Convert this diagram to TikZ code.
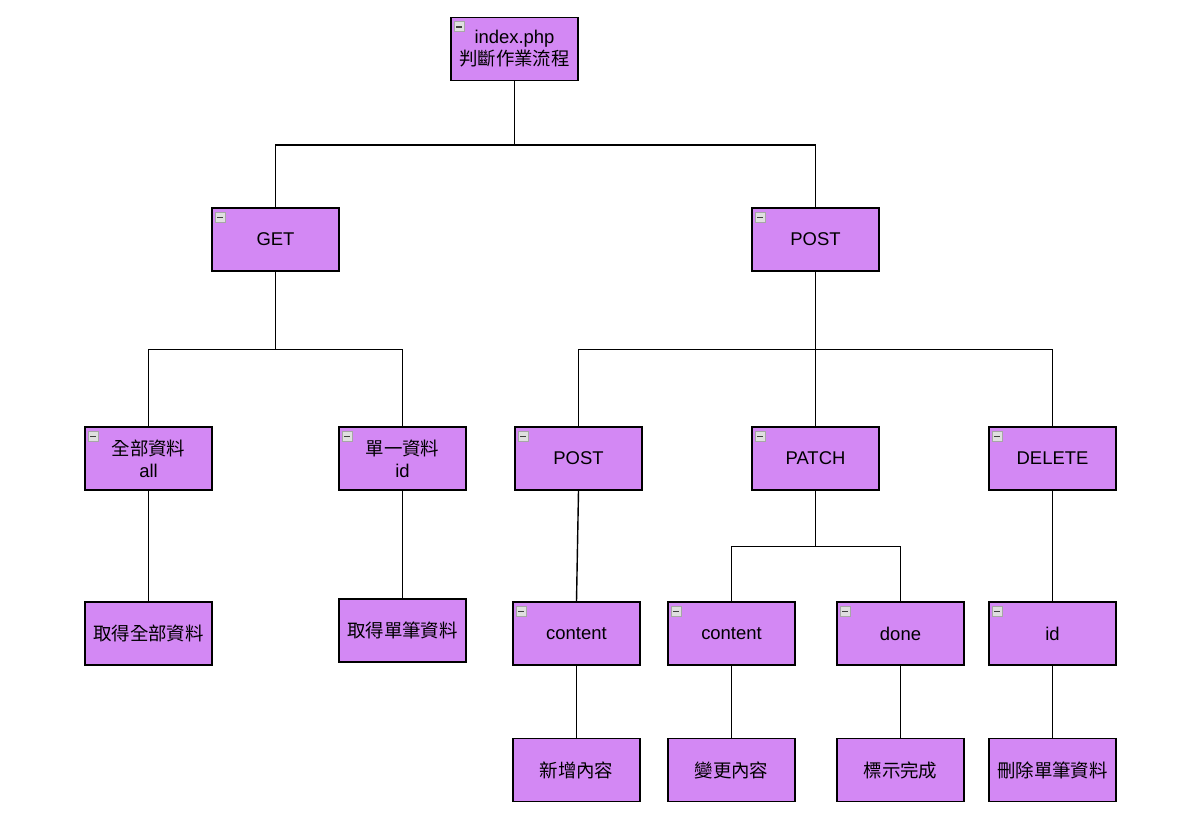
\documentclass[tikz,border=0pt]{standalone}
\usepackage{fontspec}
\setmainfont{Liberation Sans}
\newfontfamily\cjk{Noto Sans CJK TC}
\begin{document}
\begin{tikzpicture}[x=0.02cm,y=-0.02cm,
  box/.style={draw=black,line width=0.8pt,fill={rgb,255:red,211;green,136;blue,244},minimum width=2.54cm,minimum height=1.26cm,inner sep=1pt,align=center,font=\fontsize{10.5}{12.5}\selectfont},
  link/.style={line width=0.8pt},
  icon/.style={draw=gray!70,fill=gray!25,minimum size=0.2cm,inner sep=0pt,path picture={\draw[line width=0.9pt,black!75] ([xshift=0.04cm]path picture bounding box.west) -- ([xshift=-0.04cm]path picture bounding box.east);}}]
\useasboundingbox (0,0) rectangle (1200,812);
\node[box] (root) at (514.5,49) {index.php\\{\cjk 判斷作業流程}};
\node[box] (get) at (275.5,239.5) {GET};
\node[box] (post) at (815.5,239.5) {POST};
\node[box] (all) at (148.5,458.5) {{\cjk 全部資料}\\all};
\node[box] (one) at (402.5,458.5) {{\cjk 單一資料}\\id};
\node[box] (post2) at (578.5,458.5) {POST};
\node[box] (patch) at (815.5,458.5) {PATCH};
\node[box] (del) at (1052.5,458.5) {DELETE};
\node[box] (getall) at (148.5,633.5) {\cjk 取得全部資料};
\node[box] (getone) at (402.5,630.5) {\cjk 取得單筆資料};
\node[box] (c1) at (576.5,633.5) {content};
\node[box] (c2) at (731.5,633.5) {content};
\node[box] (done) at (900.5,633.5) {done};
\node[box] (id2) at (1052.5,633.5) {id};
\node[box] (add) at (576.5,770) {\cjk 新增內容};
\node[box] (chg) at (731.5,770) {\cjk 變更內容};
\node[box] (mark) at (900.5,770) {\cjk 標示完成};
\node[box] (rm) at (1052.5,770) {\cjk 刪除單筆資料};
\foreach \n in {root,get,post,all,one,post2,patch,del,c1,c2,done,id2}
  \node[icon] (ic-\n) at ([xshift=0.18cm,yshift=-0.2cm]\n.north west) {};
\draw[link] (root.south) -- ++(0,64) -| (get.north);
\draw[link] (root.south) -- ++(0,64) -| (post.north);
\draw[link] (get.south) -- ++(0,78) -| (all.north);
\draw[link] (get.south) -- ++(0,78) -| (one.north);
\draw[link] (post.south) -- ++(0,78) -| (post2.north);
\draw[link] (post.south) -- (patch.north);
\draw[link] (post.south) -- ++(0,78) -| (del.north);
\draw[link] (all.south) -- (getall.north);
\draw[link] (one.south) -- (getone.north);
\draw[link] (post2.south) -- (c1.north);
\draw[link] (patch.south) -- ++(0,56) -| (c2.north);
\draw[link] (patch.south) -- ++(0,56) -| (done.north);
\draw[link] (del.south) -- (id2.north);
\draw[link] (c1.south) -- (add.north);
\draw[link] (c2.south) -- (chg.north);
\draw[link] (done.south) -- (mark.north);
\draw[link] (id2.south) -- (rm.north);
\end{tikzpicture}
\end{document}
